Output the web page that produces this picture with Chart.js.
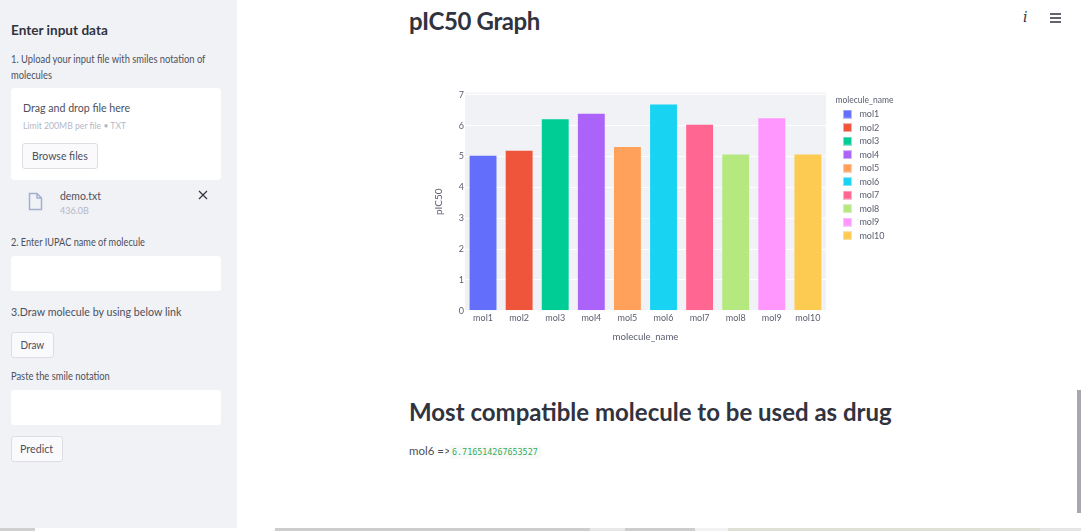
<!DOCTYPE html>
<html>
<head>
<meta charset="utf-8">
<title>pIC50 Graph</title>
<script src="https://cdn.jsdelivr.net/npm/chart.js@4"></script>
<style>
  html, body { margin: 0; padding: 0; background: #fff; overflow: hidden; }
  body { width: 1081px; height: 531px; position: relative; font-family: Lato, "Open Sans", sans-serif; color: #31333f; }
  .abs { position: absolute; white-space: nowrap; transform-origin: left center; }
  #sidebar { position: absolute; left: 0; top: 0; width: 237px; height: 528px; background: #f0f2f6; }
  .box { position: absolute; background: #fff; border-radius: 3px; left: 11px; width: 210px; }
  .btn { position: absolute; left: 11px; height: 24px; line-height: 24px; text-align: center; background: #fafafc; border: 1px solid #dcdee4; border-radius: 3px; font-size: 12px; color: #4d505c; }
  .btn span { display: inline-block; }
  #chartWrap { position: absolute; left: 420px; top: 80px; width: 500px; height: 270px; }
  h2 { margin: 0; font-weight: 700; font-size: 24px; color: #31333f; position: absolute; left: 409px; white-space: nowrap; }
  #strip { position: absolute; left: 0; top: 528px; width: 1081px; height: 3px;
    background: linear-gradient(90deg, #cfcfcf 35px, #fff 35px, #fff 275px, #cdcdcd 275px, #cdcdcd 590px, #e8e8e8 590px, #e8e8e8 625px, #cdcdcd 625px, #cdcdcd 695px, #f2f2f2 695px, #f2f2f2 728px, #e0dfd6 728px, #e0dfd6 1040px, #e4e6e4 1040px); }
</style>
</head>
<body>
<div id="sidebar">
  <div class="abs" style="left:11px;top:21px;font-size:14px;font-weight:700;transform:scaleX(.97);">Enter input data</div>
  <div class="abs" style="left:11px;top:51px;font-size:11px;line-height:16px;color:#4d505c;transform:scaleX(.85);">1. Upload your input file with smiles notation of<br>molecules</div>
  <div class="box" style="top:88px;height:92px;"></div>
  <div class="abs" style="left:23px;top:100px;font-size:12px;color:#4d505c;transform:scaleX(.885);">Drag and drop file here</div>
  <div class="abs" style="left:23px;top:119px;font-size:10px;color:#b4b8c6;transform:scaleX(.866);">Limit 200MB per file • TXT</div>
  <div class="btn" style="left:22px;top:143px;width:74px;"><span style="transform:scaleX(.875);">Browse files</span></div>
  <svg class="abs" style="left:28px;top:192px;" width="15" height="19" viewBox="0 0 15 19"><path d="M1.5 1.5h7.5l4.5 4.5v11.500h-12z M9 1.500v4.500h4.500" fill="none" stroke="#a3b1cf" stroke-width="1.500"/></svg>
  <div class="abs" style="left:60px;top:188px;font-size:12px;color:#4d505c;transform:scaleX(.87);">demo.txt</div>
  <div class="abs" style="left:60px;top:205px;font-size:9px;color:#b4b8c6;">436.0B</div>
  <svg class="abs" style="left:198px;top:190px;" width="10" height="10"><path d="M1 1l8 8M9 1l-8 8" stroke="#31333f" stroke-width="1.200"/></svg>
  <div class="abs" style="left:11px;top:236px;font-size:10.500px;color:#4d505c;transform:scaleX(.875);">2. Enter IUPAC name of molecule</div>
  <div class="box" style="top:256px;height:35px;"></div>
  <div class="abs" style="left:11px;top:304px;font-size:12px;color:#4d505c;transform:scaleX(.89);">3.Draw molecule by using below link</div>
  <div class="btn" style="top:332px;width:41px;"><span style="transform:scaleX(.83);">Draw</span></div>
  <div class="abs" style="left:11px;top:370px;font-size:10.500px;color:#4d505c;transform:scaleX(.89);">Paste the smile notation</div>
  <div class="box" style="top:390px;height:35px;"></div>
  <div class="btn" style="top:436px;width:50px;"><span style="transform:scaleX(.89);">Predict</span></div>
</div>

<h2 style="top:6px;letter-spacing:-0.4px;">pIC50 Graph</h2>
<div id="chartWrap"><canvas id="molChart"></canvas></div>
<h2 style="top:397px;">Most compatible molecule to be used as drug</h2>
<div class="abs" style="left:409px;top:444px;font-size:11.500px;color:#4d505c;">mol6 =&gt;</div>
<div class="abs" style="left:449px;top:445px;height:14px;line-height:14px;padding:0 3px;background:#f8faf9;border-radius:3px;font-family:'DejaVu Sans Mono',monospace;font-size:8.400px;color:#35ad5c;">6.716514267653527</div>

<div class="abs" style="left:1023px;top:9px;font:italic 400 14px 'DejaVu Serif',serif;color:#31333f;">i</div>
<svg class="abs" style="left:1050px;top:13px;" width="11" height="10"><path d="M0 1h11M0 5h11M0 9h11" stroke="#31333f" stroke-width="1.300"/></svg>
<div class="abs" style="left:1077px;top:390px;width:4px;height:123px;background:#a7a8ac;"></div>
<div id="strip"></div>

<script>
// values
var molecules = ['mol1', 'mol2', 'mol3', 'mol4', 'mol5', 'mol6', 'mol7', 'mol8', 'mol9', 'mol10'];
var pic50 = [5.06, 5.22, 6.24, 6.42, 5.34, 6.72, 6.06, 5.10, 6.27, 5.10];
var barColors = ['#636efa', '#ef553b', '#00cc96', '#ab63fa', '#ffa15a', '#19d3f3', '#ff6692', '#b6e880', '#ff97ff', '#fecb52'];

var tickColor = '#5c6070';
var fontFamily = 'Lato, "Open Sans", sans-serif';
var barEdge = 'rgba(240,242,246,0.6)';

// small legend swatch, so the gap to the label can be wider than chart.js gives
function swatch(color) {
    var c = document.createElement('canvas');
    c.width = 9;
    c.height = 9;
    var ctx = c.getContext('2d');
    ctx.fillStyle = color;
    ctx.fillRect(0, 0, 9, 9);
    ctx.strokeStyle = barEdge;
    ctx.strokeRect(0.5, 0.5, 8, 8);
    return c;
}

var plotBg = {
    id: 'plotBg',
    // legend sits a bit away from the plot, and its title is wider than its items
    afterLayout: function(chart) {
        chart.legend.left += 9.5;
        chart.legend.right += 30;
    },
    beforeDraw: function(chart) {
        var a = chart.chartArea;
        chart.ctx.fillStyle = '#f0f2f6';
        chart.ctx.fillRect(a.left, a.top, a.right - a.left, a.bottom - a.top);
    }
};

new Chart(document.getElementById('molChart'), {
    type: 'bar',
    data: {
        labels: molecules,
        datasets: [{
            data: pic50,
            backgroundColor: barColors,
            borderColor: barEdge,
            borderWidth: 1,
            barPercentage: 0.8,
            categoryPercentage: 1
        }]
    },
    plugins: [plotBg],
    options: {
        responsive: true,
        maintainAspectRatio: false,
        animation: false,
        layout: { padding: { top: 12.7, bottom: 0, left: 0, right: 35 } },
        plugins: {
            tooltip: { enabled: false },
            legend: {
                position: 'right',
                align: 'start',
                title: {
                    display: true,
                    text: 'molecule_name',
                    position: 'start',
                    color: tickColor,
                    font: { family: fontFamily, size: 8.5 },
                    padding: { top: 3.5, bottom: -1.3 }
                },
                labels: {
                    usePointStyle: true,
                    pointStyleWidth: 15,
                    boxHeight: 9,
                    padding: 4.5,
                    color: tickColor,
                    font: { family: fontFamily, size: 9 },
                    generateLabels: function() {
                        return molecules.map(function(name, i) {
                            return { text: name, pointStyle: swatch(barColors[i]), index: i, fontColor: tickColor };
                        });
                    }
                }
            }
        },
        scales: {
            x: {
                grid: { display: false, drawTicks: false },
                border: { display: false },
                ticks: { color: tickColor, font: { family: fontFamily, size: 9 }, padding: 2, maxRotation: 0 },
                title: { display: true, text: 'molecule_name', color: tickColor, font: { family: fontFamily, size: 9.7 }, padding: { top: 8, bottom: 7.4 } },
                afterFit: function(scale) { scale.height = 39.3; }
            },
            y: {
                min: 0,
                max: 7.07,
                grid: { color: '#ffffff', lineWidth: 1, drawTicks: false },
                border: { display: false },
                ticks: { color: tickColor, stepSize: 1, includeBounds: false, font: { family: fontFamily, size: 9 }, padding: 1 },
                title: { display: true, text: 'pIC50', color: tickColor, font: { family: fontFamily, size: 10 }, padding: { top: 13, bottom: 0 } },
                afterFit: function(scale) { scale.width = 45; }
            }
        }
    }
});
</script>
</body>
</html>
